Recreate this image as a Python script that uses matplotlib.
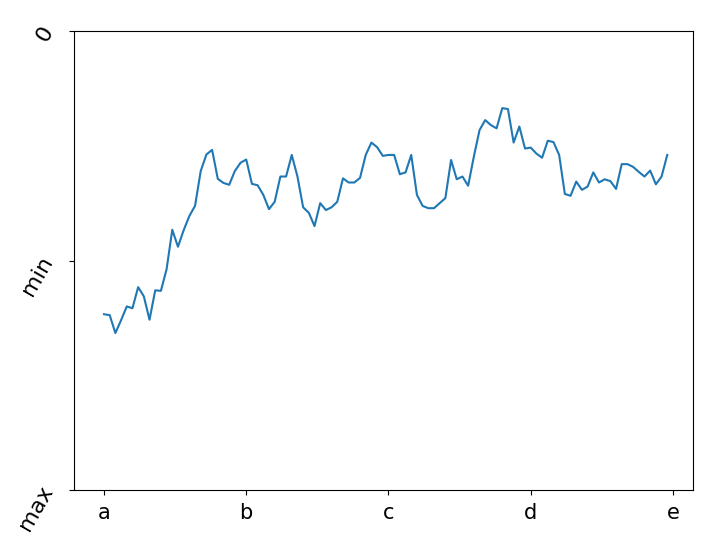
import numpy as np
import matplotlib
matplotlib.use("Agg")
import matplotlib.pyplot as plt

# valeurs (0 = bas de l'axe, 100 = haut)
valeurs = [38.3, 38.1, 34.2, 37.0, 40.0, 39.6, 44.2, 42.2, 37.1, 43.5,
           43.4, 48.1, 56.7, 53.0, 56.6, 59.7, 61.9, 69.5, 73.1, 74.1,
           67.8, 66.9, 66.5, 69.5, 71.3, 72.0, 66.7, 66.4, 64.3, 61.2,
           62.8, 68.3, 68.3, 73.0, 68.3, 61.6, 60.4, 57.5, 62.5, 61.0,
           61.6, 62.8, 67.9, 67.0, 67.0, 68.0, 73.0, 75.7, 74.7, 72.8,
           73.0, 73.0, 68.8, 69.2, 73.0, 64.3, 61.9, 61.4, 61.4, 62.5,
           63.6, 71.9, 67.7, 68.3, 66.3, 72.6, 78.4, 80.6, 79.5, 78.8,
           83.2, 83.0, 75.7, 79.2, 74.4, 74.6, 73.3, 72.4, 76.1, 75.8,
           73.0, 64.5, 64.1, 67.2, 65.4, 66.1, 69.2, 67.0, 67.7, 67.3,
           65.6, 71.0, 71.0, 70.4, 69.3, 68.3, 69.6, 66.6, 68.3, 73.0]

xticks = [0, 25, 50, 75, 100]
xlabels = ['a', 'b', 'c', 'd', 'e']
yticks = [0, 50, 100]
ylabels = ['max', 'min', '0']

fig = plt.figure(figsize=(7.07, 5.59), dpi=100)
ax = fig.add_axes([0.1047, 0.1234, 0.8753, 0.8211])
ax.plot(np.arange(len(valeurs)), valeurs)
ax.set_xlim(-5.27, 103.5)
ax.set_ylim(0, 100)
ax.set_xticks(xticks, labels=xlabels, fontsize=15)
ax.set_yticks(yticks, labels=ylabels, fontsize=16, rotation=60)
ax.tick_params(axis='x', pad=6)
ax.tick_params(axis='y', pad=9)

plt.savefig("out.png")
